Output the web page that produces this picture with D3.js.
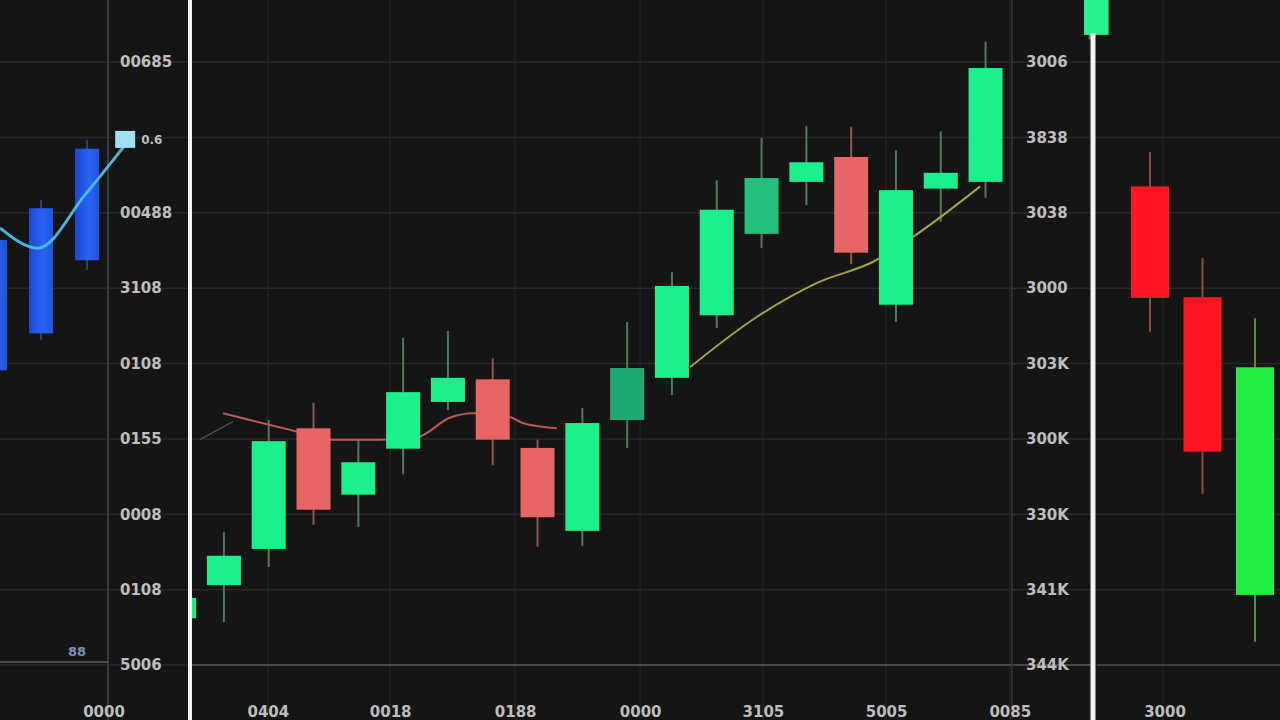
<!DOCTYPE html>
<html>
<head>
<meta charset="utf-8">
<script src="https://cdn.jsdelivr.net/npm/d3@7"></script>
<style>
  html, body { margin: 0; padding: 0; background: #151515; }
  svg { display: block; }
  .lbl { font-family: "DejaVu Sans", sans-serif; font-size: 15px; font-weight: bold; fill: #bdbdbd; }
</style>
</head>
<body>
<svg id="chart" width="1280" height="720"></svg>
<script>
// price ticks shared by all three panels (gridlines line up)
const priceTicks = [360, 350, 340, 330, 320, 310, 300, 290, 280];
const mainTickLabels = ['3006', '3838', '3038', '3000', '303K', '300K', '330K', '341K', '344K'];
const leftTickLabels = ['00685', '', '00488', '3108', '0108', '0155', '0008', '0108', '5006'];

// main candles (index -1 is the one cut off at the left edge)
const mainIdx   = [-1, 0, 1, 2, 3, 4, 5, 6, 7, 8, 9, 10, 11, 12, 13, 14, 15, 16, 17];
const mainOpen  = [286.2, 290.6, 295.4, 311.4, 302.6, 308.7, 314.9, 317.9, 308.8, 297.8, 312.5, 318.1, 326.4, 337.2, 344.1, 347.4, 327.8, 343.2, 344.1];
const mainClose = [288.9, 294.5, 309.7, 300.6, 306.9, 316.2, 318.1, 309.9, 299.6, 312.1, 319.4, 330.3, 340.4, 344.6, 346.7, 334.7, 343.0, 345.3, 359.2];
const mainHigh  = [290.0, 297.6, 312.5, 314.8, 309.9, 323.4, 324.3, 320.7, 309.9, 314.1, 325.5, 332.1, 344.3, 349.9, 351.5, 351.4, 348.3, 350.8, 362.7];
const mainLow   = [284.0, 285.7, 293.0, 298.6, 298.3, 305.3, 313.8, 306.5, 295.7, 295.8, 308.8, 315.8, 324.7, 335.3, 341.0, 333.2, 325.5, 338.8, 342.0];

// moving average pieces
const maLeadX = [-0.54, 0.20];
const maLeadV = [309.9, 312.3];
const maRedX  = [-0.02, 1.47, 2.43, 3.48, 4.31, 5.04, 5.56, 6.38, 6.67, 7.43];
const maRedV  = [313.4, 311.2, 309.9, 309.9, 310.2, 312.8, 313.4, 312.9, 312.1, 311.4];
const maYelX  = [10.40, 11.90, 13.24, 14.49, 15.38, 16.88];
const maYelV  = [319.5, 326.2, 330.7, 333.5, 336.8, 343.5];

const mainXTicks  = [0.98, 3.71, 6.50, 9.29, 12.03, 14.78, 17.54];
const mainXLabels = ['0404', '0018', '0188', '0000', '3105', '5005', '0085'];

// left panel (blue)
const leftIdx   = [0, 1, 2];
const leftTop   = [336.4, 340.6, 348.5];
const leftBot   = [319.1, 324.0, 333.7];
const leftHigh  = [337.0, 341.7, 349.7];
const leftLow   = [318.0, 323.1, 332.4];
const leftLineX = [0.11, 0.93, 1.96, 2.83];
const leftLineV = [338.0, 335.3, 342.4, 349.0];

// right panel
const rightIdx   = [-0.15, 1, 2, 3];
const rightOpen  = [363.6, 343.5, 328.8, 289.3];
const rightClose = [370.0, 328.7, 308.3, 319.5];
const rightHigh  = [371.0, 348.1, 334.0, 326.0];
const rightLow   = [363.0, 324.2, 302.7, 283.1];

const svg = d3.select('#chart');
const y = d3.scaleLinear().domain([280, 360]).range([665, 62]);

const defs = svg.append('defs');
defs.append('clipPath').attr('id', 'clipMain').append('rect').attr('x', 192).attr('y', 0).attr('width', 899).attr('height', 720);
defs.append('clipPath').attr('id', 'clipLeft').append('rect').attr('x', 0).attr('y', 0).attr('width', 188).attr('height', 720);
defs.append('clipPath').attr('id', 'clipRight').append('rect').attr('x', 1084).attr('y', 0).attr('width', 196).attr('height', 720);
const blueGrad = defs.append('linearGradient').attr('id', 'blueGrad').attr('x1', 0).attr('x2', 1).attr('y1', 0).attr('y2', 0);
blueGrad.append('stop').attr('offset', '0%').attr('stop-color', '#1d47d6');
blueGrad.append('stop').attr('offset', '60%').attr('stop-color', '#2a63f0');
blueGrad.append('stop').attr('offset', '100%').attr('stop-color', '#1f52e0');

// ---------- gridlines ----------
const grid = svg.append('g');
grid.selectAll('line.h').data(priceTicks).enter().append('line')
  .attr('x1', 0).attr('x2', 1280)
  .attr('y1', d => y(d)).attr('y2', d => y(d))
  .attr('stroke', '#282828').attr('stroke-width', 1.5);

// ================= MAIN PANEL =================
const x = d3.scaleLinear().domain([-0.69, 17.59]).range([193, 1012]);
const gMain = svg.append('g');

gMain.selectAll('line.v').data(mainXTicks).enter().append('line')
  .attr('x1', d => x(d)).attr('x2', d => x(d))
  .attr('y1', 0).attr('y2', 720)
  .attr('stroke', '#222').attr('stroke-width', 1.5);

// bottom axis line + right axis line
gMain.append('line').attr('x1', 192).attr('x2', 1090).attr('y1', y(280)).attr('y2', y(280))
  .attr('stroke', '#4a4a4a').attr('stroke-width', 2);
gMain.append('line').attr('x1', 1012).attr('x2', 1012).attr('y1', 0).attr('y2', 720)
  .attr('stroke', '#333').attr('stroke-width', 1.5);

const rightAxis = d3.axisRight(y).tickValues(priceTicks)
  .tickFormat((d, i) => mainTickLabels[i]).tickSize(5).tickPadding(9);
const ra = gMain.append('g').attr('transform', 'translate(1012,0)').call(rightAxis);
ra.select('.domain').remove();
ra.selectAll('line').attr('stroke', '#333');
ra.selectAll('text').attr('class', 'lbl');

const bottomAxis = d3.axisBottom(x).tickValues(mainXTicks)
  .tickFormat((d, i) => mainXLabels[i]).tickSize(0).tickPadding(52);
const ba = gMain.append('g').attr('transform', `translate(0,${y(280)})`).call(bottomAxis);
ba.select('.domain').remove();
ba.selectAll('text').attr('class', 'lbl').attr('dy', '0');

const plot = gMain.append('g').attr('clip-path', 'url(#clipMain)');
const candleW = 34;
const dimmed = { 9: '#1ea874', 12: '#22c27c' };
const mainData = mainIdx.map((i, k) => ({
  i, o: mainOpen[k], c: mainClose[k], h: mainHigh[k], l: mainLow[k]
}));
const bodyColor = d => dimmed[d.i] || (d.c >= d.o ? '#1bf08c' : '#e86565');
const wickColor = d => (d.c >= d.o ? '#4f7a5c' : '#8a5656');

plot.selectAll('line.wick').data(mainData).enter().append('line')
  .attr('x1', d => x(d.i)).attr('x2', d => x(d.i))
  .attr('y1', d => y(d.h)).attr('y2', d => y(d.l))
  .attr('stroke', wickColor).attr('stroke-width', 2);

// MA lines under bodies
const line = d3.line().x(d => x(d[0])).y(d => y(d[1])).curve(d3.curveMonotoneX);
plot.append('path').datum(d3.zip(maLeadX, maLeadV)).attr('d', line)
  .attr('fill', 'none').attr('stroke', '#4d4d4d').attr('stroke-width', 1.5);
plot.append('path').datum(d3.zip(maRedX, maRedV)).attr('d', line)
  .attr('fill', 'none').attr('stroke', '#b85858').attr('stroke-width', 2);
plot.append('path').datum(d3.zip(maYelX, maYelV)).attr('d', line)
  .attr('fill', 'none').attr('stroke', '#a3a244').attr('stroke-width', 2);

plot.selectAll('rect.body').data(mainData).enter().append('rect')
  .attr('x', d => x(d.i) - candleW / 2).attr('width', candleW)
  .attr('y', d => y(Math.max(d.o, d.c)))
  .attr('height', d => Math.abs(y(d.o) - y(d.c)))
  .attr('fill', bodyColor);

// ================= LEFT PANEL =================
const xl = d3.scaleLinear().domain([0, 2]).range([-5, 87]);
const gLeft = svg.append('g');
gLeft.append('line').attr('x1', 108).attr('x2', 108).attr('y1', 0).attr('y2', 720)
  .attr('stroke', '#3a3a3a').attr('stroke-width', 2);
gLeft.append('line').attr('x1', 0).attr('x2', 108).attr('y1', 662).attr('y2', 662)
  .attr('stroke', '#4a4a4a').attr('stroke-width', 2);

const leftAxis = d3.axisRight(y).tickValues(priceTicks)
  .tickFormat((d, i) => leftTickLabels[i]).tickSize(0).tickPadding(12);
const la = gLeft.append('g').attr('transform', 'translate(108,0)').call(leftAxis);
la.select('.domain').remove();
la.selectAll('text').attr('class', 'lbl');

const lp = gLeft.append('g').attr('clip-path', 'url(#clipLeft)');
const leftData = leftIdx.map((i, k) => ({ i, t: leftTop[k], b: leftBot[k], h: leftHigh[k], l: leftLow[k] }));
lp.selectAll('line.wick').data(leftData).enter().append('line')
  .attr('x1', d => xl(d.i)).attr('x2', d => xl(d.i))
  .attr('y1', d => y(d.h)).attr('y2', d => y(d.l))
  .attr('stroke', '#2a3f70').attr('stroke-width', 2);
lp.selectAll('rect.body').data(leftData).enter().append('rect')
  .attr('x', d => xl(d.i) - 12).attr('width', 24)
  .attr('y', d => y(d.t)).attr('height', d => y(d.b) - y(d.t))
  .attr('fill', 'url(#blueGrad)');

const lline = d3.line().x(d => xl(d[0])).y(d => y(d[1])).curve(d3.curveMonotoneX);
const leftPts = d3.zip(leftLineX, leftLineV);
lp.append('path').datum(leftPts).attr('d', lline)
  .attr('fill', 'none').attr('stroke', '#4fc3ea').attr('stroke-width', 3).attr('opacity', 0.9);
const last = leftPts[leftPts.length - 1];
lp.append('rect').attr('x', xl(last[0]) - 10).attr('y', y(last[1]) - 14)
  .attr('width', 20).attr('height', 17).attr('fill', '#9fe0f2');
lp.append('text').attr('class', 'lbl').attr('x', xl(last[0]) + 16).attr('y', y(last[1]) - 1)
  .style('font-size', '12px').text('0.6');
lp.append('text').attr('class', 'lbl').attr('x', 68).attr('y', 656)
  .style('fill', '#7f8fb8').style('font-size', '13px').text('88');
gLeft.append('text').attr('class', 'lbl').attr('x', 104).attr('y', 717)
  .attr('text-anchor', 'middle').text('0000');

// ================= RIGHT PANEL =================
const xr = d3.scaleLinear().domain([0, 3]).range([1097.5, 1255]);
const gRight = svg.append('g');
gRight.append('line').attr('x1', 1163).attr('x2', 1163).attr('y1', 0).attr('y2', 720)
  .attr('stroke', '#222').attr('stroke-width', 1.5);
gRight.append('line').attr('x1', 1097).attr('x2', 1280).attr('y1', y(280)).attr('y2', y(280))
  .attr('stroke', '#3e3e3e').attr('stroke-width', 2);
gRight.append('text').attr('class', 'lbl').attr('x', 1165).attr('y', 717)
  .attr('text-anchor', 'middle').text('3000');

const rp = gRight.append('g').attr('clip-path', 'url(#clipRight)');
const rightData = rightIdx.map((i, k) => ({ i, o: rightOpen[k], c: rightClose[k], h: rightHigh[k], l: rightLow[k] }));
rp.selectAll('line.wick').data(rightData).enter().append('line')
  .attr('x1', d => xr(d.i)).attr('x2', d => xr(d.i))
  .attr('y1', d => y(d.h)).attr('y2', d => y(d.l))
  .attr('stroke', d => d.c >= d.o ? '#5a8a48' : '#8a4a3c').attr('stroke-width', 2);
rp.selectAll('rect.body').data(rightData).enter().append('rect')
  .attr('x', d => xr(d.i) - 19).attr('width', 38)
  .attr('y', d => y(Math.max(d.o, d.c)))
  .attr('height', d => Math.abs(y(d.o) - y(d.c)))
  .attr('fill', d => d.i < 0 ? '#2af08e' : (d.c >= d.o ? '#22ee44' : '#ff1424'));

// white separators
svg.append('line').attr('x1', 190).attr('x2', 190).attr('y1', 0).attr('y2', 720)
  .attr('stroke', '#f2f2f2').attr('stroke-width', 4);
svg.append('line').attr('x1', 1093).attr('x2', 1093).attr('y1', 33).attr('y2', 720)
  .attr('stroke', '#f2f2f2').attr('stroke-width', 5);
</script>
</body>
</html>
